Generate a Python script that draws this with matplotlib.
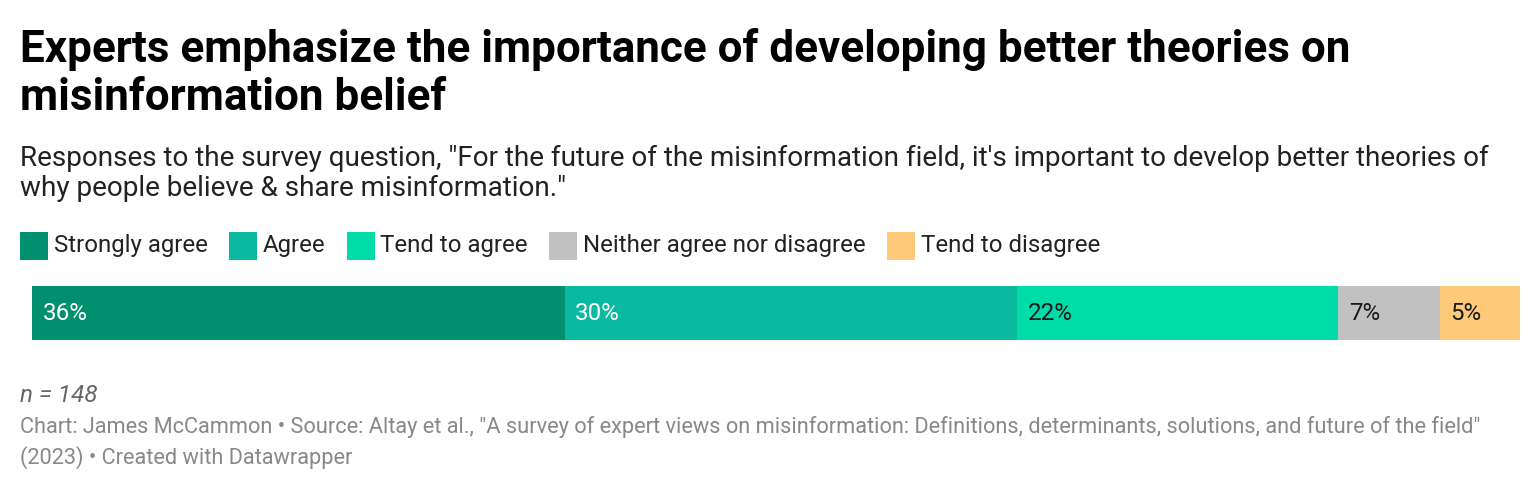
import matplotlib.pyplot as plt
from matplotlib.patches import Rectangle

# survey responses, n = 148
categories = ["Strongly agree", "Agree", "Tend to agree",
              "Neither agree nor disagree", "Tend to disagree"]
shares = [35.8, 30.4, 21.6, 6.8, 5.4]
labels = ["36%", "30%", "22%", "7%", "5%"]
colors = ["#00906f", "#0bb9a0", "#00dca7", "#c1c1c1", "#fec979"]
label_colors = ["white", "white", "#1a1a1a", "#1a1a1a", "#1a1a1a"]

title_lines = ["Experts emphasize the importance of developing better theories on",
               "misinformation belief"]
subtitle_lines = ["Responses to the survey question, \"For the future of the misinformation field, "
                  "it's important to develop better theories of",
                  "why people believe & share misinformation.\""]
note = "n = 148"
footer_lines = ["Chart: James McCammon \u2022 Source: Altay et al., \"A survey of expert views on "
                "misinformation: Definitions, determinants, solutions, and future of the field\"",
                "(2023) \u2022 Created with Datawrapper"]

W, H = 1540, 492
plt.rcParams['font.family'] = ['Roboto', 'DejaVu Sans']
fig = plt.figure(figsize=(W / 100, H / 100), dpi=100)


def px(x, y):
    # pixel coords from top-left -> figure fraction
    return x / W, 1 - y / H


# title + subtitle
for i, line in enumerate(title_lines):
    fig.text(*px(20, 62 + i * 48), line, fontsize=31.7, fontweight='bold',
             color='black', va='baseline')
for i, line in enumerate(subtitle_lines):
    fig.text(*px(20, 166 + i * 30), line, fontsize=20.1, color='#222222', va='baseline')

# legend, laid out left to right
renderer = fig.canvas.get_renderer()
x = 20
for cat, col in zip(categories, colors):
    fig.patches.append(Rectangle(px(x, 260), 28 / W, 28 / H, transform=fig.transFigure,
                                 facecolor=col, edgecolor='none'))
    t = fig.text(*px(x + 34, 252), cat, fontsize=17.3, color='#222222', va='baseline')
    bb = t.get_window_extent(renderer)
    x = x + 34 + bb.width + 21

# stacked bar
ax = fig.add_axes([32 / W, 1 - 340 / H, (1520 - 32) / W, 54 / H])
left = 0
for val, col, lab, lc in zip(shares, colors, labels, label_colors):
    ax.barh(0, val, left=left, height=1, color=col, edgecolor='none')
    ax.text(left + 0.7, 0, lab, color=lc, fontsize=17.4, va='center', ha='left')
    left += val
ax.set_xlim(0, sum(shares))
ax.set_ylim(-0.5, 0.5)
ax.axis('off')

# notes
fig.text(*px(20, 402), note, fontsize=17.5, style='italic', color='#666666', va='baseline')
for i, line in enumerate(footer_lines):
    fig.text(*px(20, 433 + i * 31), line, fontsize=15.7, color='#888888', va='baseline')

fig.savefig("out.png", dpi=100, facecolor='white')
